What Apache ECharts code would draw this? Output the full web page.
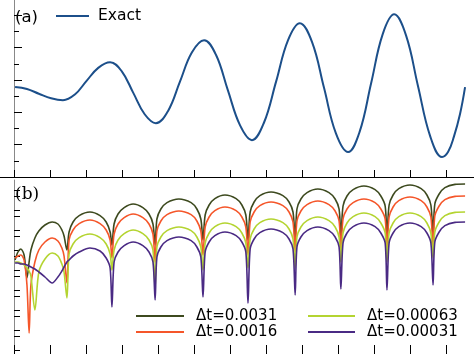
<!DOCTYPE html>
<html>
<head>
<meta charset="utf-8">
<script src="https://cdn.jsdelivr.net/npm/echarts@6/dist/echarts.min.js"></script>
<style>
html, body { margin: 0; padding: 0; background: #fff; }
#main { width: 474px; height: 354px; }
</style>
</head>
<body>
<div id="main"></div>
<script>
/* data */
// (a) exact solution
var tExact = [0.03, 0.36, 0.69, 1.03, 1.36, 1.69, 2.01, 2.34, 2.67, 2.99, 3.31, 3.63, 3.94, 4.28, 4.61, 4.94, 5.28,
  5.61, 5.94, 6.28, 6.61, 6.94, 7.28, 7.61, 7.94, 8.28, 8.61, 8.94, 9.28, 9.60, 9.92, 10.24, 10.56,
  10.89, 11.22, 11.56, 11.89, 12.06, 12.22, 12.39, 12.53];
var uExact = [5.56, 5.44, 5.15, 4.87, 4.75, 5.10, 5.93, 6.75, 7.10, 6.55, 5.22, 3.88, 3.33, 4.09, 5.90, 7.70, 8.46,
  7.56, 5.37, 3.19, 2.28, 3.34, 5.90, 8.45, 9.51, 8.34, 5.53, 2.71, 1.54, 2.79, 5.80, 8.82, 10.06,
  8.76, 5.65, 2.53, 1.24, 1.56, 2.50, 3.90, 5.56];

// (b) error, log10
var tErr = [0.03, 0.11, 0.19, 0.28, 0.36, 0.42, 0.47, 0.58, 0.69, 0.86, 1.06, 1.22, 1.33, 1.39, 1.47,
  1.53, 1.64, 1.81, 2.11, 2.39, 2.56, 2.67, 2.72,
  2.78, 2.89, 3.06, 3.31, 3.58, 3.75, 3.86, 3.92,
  3.97, 4.08, 4.25, 4.58, 4.92, 5.08, 5.19, 5.25,
  5.31, 5.42, 5.58, 5.86, 6.17, 6.33, 6.44, 6.5,
  6.56, 6.67, 6.83, 7.14, 7.47, 7.64, 7.75, 7.81,
  7.86, 7.97, 8.14, 8.44, 8.75, 8.92, 9.03, 9.08,
  9.14, 9.25, 9.42, 9.72, 10.03, 10.19, 10.31, 10.36,
  10.42, 10.53, 10.69, 11.0, 11.31, 11.47, 11.58, 11.64,
  11.69, 11.81, 11.97, 12.25, 12.53];
var err0031 = [-4.2, -3.8, -3.65, -3.95, -5.1, -4.3, -3.7, -3.1, -2.75, -2.45, -2.3, -2.4, -2.7, -3.0, -3.7,
  -2.8, -2.3, -1.98, -1.8, -1.98, -2.3, -2.8, -3.45,
  -2.4, -1.9, -1.58, -1.4, -1.58, -1.9, -2.4, -3.45,
  -2.15, -1.65, -1.33, -1.15, -1.33, -1.65, -2.15, -3.2,
  -1.95, -1.45, -1.13, -0.95, -1.13, -1.45, -1.95, -3.2,
  -1.8, -1.3, -0.98, -0.8, -0.98, -1.3, -1.8, -3.1,
  -1.65, -1.15, -0.83, -0.65, -0.83, -1.15, -1.65, -3.0,
  -1.5, -1.0, -0.68, -0.5, -0.68, -1.0, -1.5, -2.95,
  -1.45, -0.95, -0.63, -0.45, -0.63, -0.95, -1.45, -2.9,
  -1.4, -0.9, -0.58, -0.42, -0.4];
var err0016 = [-4.1, -4.0, -3.95, -4.2, -5.45, -7.85, -5.45, -4.3, -3.7, -3.3, -3.1, -3.25, -3.6, -4.0, -5.35,
  -3.2, -2.7, -2.38, -2.2, -2.38, -2.7, -3.2, -4.1,
  -2.9, -2.4, -2.08, -1.9, -2.08, -2.4, -2.9, -4.3,
  -2.75, -2.25, -1.93, -1.75, -1.93, -2.25, -2.75, -3.95,
  -2.55, -2.05, -1.73, -1.55, -1.73, -2.05, -2.55, -3.95,
  -2.3, -1.8, -1.48, -1.3, -1.48, -1.8, -2.3, -3.8,
  -2.25, -1.75, -1.43, -1.25, -1.43, -1.75, -2.25, -3.7,
  -2.15, -1.65, -1.33, -1.15, -1.33, -1.65, -2.15, -3.7,
  -2.05, -1.55, -1.23, -1.05, -1.23, -1.55, -2.05, -3.6,
  -2.0, -1.5, -1.18, -1.02, -1.0];
var err00063 = [-4.3, -4.3, -4.35, -4.45, -4.6, -4.75, -5.0, -6.7, -4.8, -4.15, -3.85, -4.0, -4.4, -4.8, -6.1,
  -3.9, -3.4, -3.08, -2.9, -3.08, -3.4, -3.9, -4.7,
  -3.7, -3.2, -2.88, -2.7, -2.88, -3.2, -3.7, -5.6,
  -3.55, -3.05, -2.73, -2.55, -2.73, -3.05, -3.55, -4.7,
  -3.35, -2.85, -2.53, -2.35, -2.53, -2.85, -3.35, -4.6,
  -3.15, -2.65, -2.33, -2.15, -2.33, -2.65, -3.15, -4.6,
  -3.05, -2.55, -2.23, -2.05, -2.23, -2.55, -3.05, -4.3,
  -2.85, -2.35, -2.03, -1.85, -2.03, -2.35, -2.85, -4.3,
  -2.85, -2.35, -2.03, -1.85, -2.03, -2.35, -2.85, -4.1,
  -2.8, -2.3, -1.98, -1.82, -1.8];
var err00031 = [-4.35, -4.35, -4.4, -4.4, -4.45, -4.5, -4.55, -4.65, -4.8, -5.05, -5.35, -5.05, -4.75, -4.55, -4.3,
  -4.2, -4.0, -3.8, -3.6, -3.75, -4.1, -4.6, -6.55,
  -4.3, -3.8, -3.48, -3.3, -3.48, -3.8, -4.3, -6.2,
  -4.05, -3.55, -3.23, -3.05, -3.23, -3.55, -4.05, -6.05,
  -3.8, -3.3, -2.98, -2.8, -2.98, -3.3, -3.8, -6.35,
  -3.65, -3.15, -2.83, -2.65, -2.83, -3.15, -3.65, -5.95,
  -3.55, -3.05, -2.73, -2.55, -2.73, -3.05, -3.55, -5.65,
  -3.35, -2.85, -2.53, -2.35, -2.53, -2.85, -3.35, -5.7,
  -3.35, -2.85, -2.53, -2.35, -2.53, -2.85, -3.35, -5.45,
  -3.3, -2.8, -2.48, -2.32, -2.3];

// ticks
var xTicks = [0, 1, 2, 3, 4, 5, 6, 7, 8, 9, 10, 11, 12];
var errTicks = [-0.699, -1, -1.699, -2, -2.699, -3, -3.699, -4, -4.699, -5, -5.699, -6, -6.699, -7, -7.699, -8, -8.699, -9];

var names = ['Δt=0.0031', 'Δt=0.0016', 'Δt=0.00063', 'Δt=0.00031'];
var colors = ['#3d4a1f', '#f5562a', '#b4d431', '#4a2a84'];
var errs = [err0031, err0016, err00063, err00031];

function pairs(xs, ys) {
  var out = [];
  for (var i = 0; i < xs.length; i++) out.push([xs[i], ys[i]]);
  return out;
}

var sans = 'DejaVu Sans';

var series = [{
  name: 'Exact',
  type: 'line',
  xAxisIndex: 0, yAxisIndex: 0,
  data: pairs(tExact, uExact),
  smooth: 0.4,
  symbol: 'none',
  lineStyle: { color: '#1c4f8a', width: 2 },
  itemStyle: { color: '#1c4f8a' }
}];
for (var k = 0; k < 4; k++) {
  series.push({
    name: names[k],
    type: 'line',
    xAxisIndex: 1, yAxisIndex: 1,
    data: pairs(tErr, errs[k]),
    smooth: 0.3,
    symbol: 'none',
    lineStyle: { color: colors[k], width: 1.6 },
    itemStyle: { color: colors[k] }
  });
}

var xCommon = {
  type: 'value',
  min: -0.389,
  max: 12.778,
  axisLine: { lineStyle: { color: '#000', width: 1 } },
  axisTick: { inside: true, customValues: xTicks, lineStyle: { color: '#000' } },
  axisLabel: { show: false },
  splitLine: { show: false }
};

// legend: plain line, symbol hidden
var legendText = { fontFamily: sans, fontSize: 15, lineHeight: 16, color: '#000', padding: [0, 0, 0, 7] };

var chart = echarts.init(document.getElementById('main'));
chart.setOption({
  animation: false,
  grid: [
    { left: 0, right: 0, top: -17, height: 194, outerBoundsMode: 'none' },
    { left: 0, right: 0, top: 180, height: 176, outerBoundsMode: 'none' }
  ],
  xAxis: [
    Object.assign({}, xCommon, { gridIndex: 0, axisTick: Object.assign({}, xCommon.axisTick, { length: 7 }) }),
    Object.assign({}, xCommon, { gridIndex: 1, axisTick: Object.assign({}, xCommon.axisTick, { length: 11 }) })
  ],
  yAxis: [{
    type: 'value', gridIndex: 0,
    min: 0, max: 12, interval: 2,
    axisLine: { show: true, lineStyle: { color: '#888' } },
    axisTick: { inside: true, length: 8, lineStyle: { color: '#000' } },
    minorTick: { show: true, splitNumber: 2, length: 5, lineStyle: { color: '#000' } },
    axisLabel: { show: false },
    splitLine: { show: false }
  }, {
    type: 'value', gridIndex: 1,
    min: -9, max: -0.2,
    axisLine: { show: true, lineStyle: { color: '#888' } },
    axisTick: { inside: true, length: 6, customValues: errTicks, lineStyle: { color: '#000' } },
    axisLabel: { show: false },
    splitLine: { show: false }
  }],
  legend: [{
    data: ['Exact'],
    left: 55, top: 8,
    padding: 0,
    itemWidth: 33, itemHeight: 16,
    itemStyle: { opacity: 0 },
    selectedMode: false,
    textStyle: { fontFamily: sans, fontSize: 15.5, lineHeight: 16, color: '#000', padding: [0, 0, 0, 4] }
  }, {
    data: [names[0], names[1]],
    orient: 'vertical',
    left: 135, top: 308,
    padding: 0, itemGap: 0,
    itemWidth: 48, itemHeight: 16,
    itemStyle: { opacity: 0 },
    selectedMode: false,
    textStyle: legendText
  }, {
    data: [names[2], names[3]],
    orient: 'vertical',
    left: 307, top: 308,
    padding: 0, itemGap: 0,
    itemWidth: 47, itemHeight: 16,
    itemStyle: { opacity: 0 },
    selectedMode: false,
    textStyle: legendText
  }],
  graphic: [
    { type: 'text', left: 15, top: 9, style: { text: '(a)', fontFamily: sans, fontSize: 16.5, fill: '#000' } },
    { type: 'text', left: 15, top: 186, style: { text: '(b)', fontFamily: 'DejaVu Serif', fontSize: 17, fill: '#000' } }
  ],
  series: series
});
</script>
</body>
</html>
